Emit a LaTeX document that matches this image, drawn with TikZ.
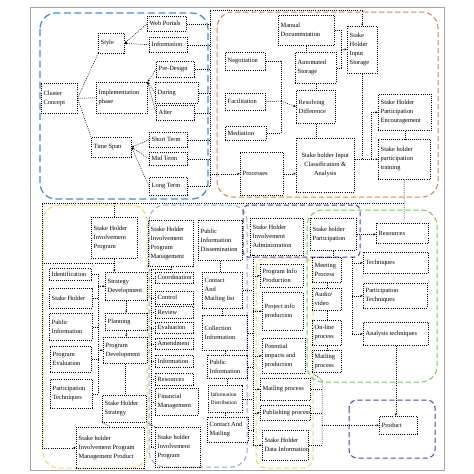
\documentclass[tikz,border=0pt]{standalone}
\usepackage{fontspec}
\setmainfont{Liberation Serif}
\usetikzlibrary{arrows.meta,calc}

\definecolor{zblue}{RGB}{70,140,205}
\definecolor{zorange}{RGB}{215,125,75}
\definecolor{zyellow}{RGB}{228,218,100}
\definecolor{zgrey}{RGB}{150,172,192}
\definecolor{zpurple}{RGB}{90,55,170}
\definecolor{zgreen}{RGB}{105,205,80}
\definecolor{framegrey}{RGB}{165,165,165}

\tikzset{
  box/.style={draw, dash pattern=on 1pt off 1.1pt, line width=0.55pt, inner sep=0pt, anchor=north west},
  txt/.style={anchor=west, align=left, inner sep=0pt, font=\fontsize{6.4}{9}\selectfont},
  conn/.style={dash pattern=on 1pt off 1.1pt, line width=0.5pt},
  arr/.style={conn, -{Latex[length=2.4pt,width=2.2pt]}},
  zone/.style={line width=1pt, dash pattern=on 5pt off 3pt, rounded corners=16pt},
}
% box from its corners: name, x1, y1, x2, y2, text
\newcommand{\bxl}[7][]{%
  \node[box, minimum width={(#5-#3)*1pt}, minimum height={(#6-#4)*1pt}] (#2) at (#3,#4) {};
  \node[txt, xshift=2.5pt, #1] (#2-t) at (#2.west) {#7};}
\newcommand{\bxc}[6]{%
  \node[box, minimum width={(#4-#2)*1pt}, minimum height={(#5-#3)*1pt}] (#1) at (#2,#3) {};
  \node[txt, anchor=center, align=center] (#1-t) at (#1.center) {#6};}

\begin{document}
\begin{tikzpicture}[x=1pt, y=-1pt]
  \useasboundingbox (0,0) rectangle (474,474);
  \fill[white] (0,0) rectangle (474,474);
  %frame and coloured groups
  \draw[framegrey, line width=0.6pt] (30,7) rectangle (444,470);
  \draw[zone, zblue, line width=1.2pt, dash pattern=on 7pt off 3.5pt] (40,13) rectangle (208,199);
  \draw[zone, zorange] (217,12) rectangle (438,197);
  \draw[zone, zyellow] (43,205) rectangle (147,468);
  \draw[zone, zgrey] (149,205) rectangle (247,467);
  \draw[zone, zyellow, rounded corners=10pt] (256,258) rectangle (313,468);
  \draw[zone, zgreen] (307,210) rectangle (437,382);
  \draw[zone, zpurple, rounded corners=5pt] (243,205) rectangle (360,257);
  \draw[zone, zpurple, rounded corners=8pt] (349,400) rectangle (435,458);

  %cluster concept (blue)
  \bxl{cc}{41}{83}{77}{113}{Cluster\\Concept}
  \bxl{sty}{98}{33}{124}{53}{Style}
  \bxl{web}{147}{16}{186}{31}{Web Portals}
  \bxl{inf}{149}{37}{187}{52}{Information}
  \bxl{imp}{96}{82}{147}{113}{Implementation\\phase}
  \bxl{pre}{156}{61}{194}{77}{Pre-Design}
  \bxl{dur}{155}{82}{198}{103}{During}
  \bxl{aft}{156}{105}{194}{120}{After}
  \bxl{tsp}{91}{137}{131}{157}{Time Span}
  \bxl{sht}{149}{132}{187}{147}{Short Term}
  \bxl{mid}{149}{152}{187}{165}{Mid Term}
  \bxl{lng}{149}{177}{187}{195}{Long Term}

  %stake holder input (orange)
  \bxl{man}{278}{15}{334}{45}{Manual\\Documentation}
  \bxl{sto}{347}{26}{377}{73}{Stake\\Holder\\Input\\Storage}
  \bxl{neg}{225}{52}{265}{70}{Negotiation}
  \bxl{aut}{295}{52}{336}{83}{Automated\\Storage}
  \bxl{fac}{225}{93}{265}{110}{Facilitation}
  \bxl{res}{296}{90}{335}{123}{Resolving\\Difference}
  \bxl{med}{225}{126}{266}{140}{Mediation}
  \bxl{enc}{378}{94}{431}{130}{Stake Holder\\Participation\\Encouragement}
  \bxl{trn}{378}{139}{430}{179}{Stake holder\\participation\\training}
  \bxc{cls}{296}{138}{354}{192}{Stake holder Input\\Classification \&\\Analysis}
  \bxl{pro}{240}{152}{283}{195}{Processes}

  %involvement program (yellow)
  \bxl{ship}{91}{217}{137}{258}{Stake Holder\\Involvement\\Program}
  \bxl{idf}{49}{268}{91}{280}{Identification}
  \bxl{sh}{49}{288}{92}{308}{Stake Holder}
  \bxl{sdv}{105}{272}{147}{300}{Strategy\\Development}
  \bxl{pinf}{49}{313}{92}{340}{Public\\Information}
  \bxl{pln}{105}{313}{147}{330}{Planning}
  \bxl{pev}{50}{346}{91}{372}{Program\\Evaluation}
  \bxl{pdv}{103}{337}{147}{363}{Program\\Development}
  \bxl{ptq}{50}{379}{92}{408}{Participation\\Techniques}
  \bxl{shs}{102}{395}{146}{422}{Stake Holder\\Strategy}
  \bxl{mpp}{76}{427}{144}{468}{Stake holder\\Involvement Program\\Management Product}

  %program management (grey)
  \bxl{shipm}{148}{220}{193}{266}{Stake Holder\\Involvement\\Program\\Management}
  \bxl{pid}{198}{220}{242}{260}{Public\\Information\\Dissemination}
  \bxl{crd}{155}{272}{193}{283}{Coordination}
  \bxl{cml}{202}{272}{242}{308}{Contact\\And\\Mailing list}
  \bxl{ctl}{155}{291}{193}{304}{Control}
  \bxl{rev}{155}{306}{193}{318}{Review}
  \bxl{evl}{155}{322}{193}{333}{Evaluation}
  \bxl{amd}{155}{338}{193}{349}{Amendment}
  \bxl{minf}{155}{355}{193}{367}{Information}
  \bxl{mres}{155}{373}{193}{385}{Resources}
  \bxl{fin}{155}{388}{198}{415}{Financial\\Management}
  \bxl{ship2}{155}{427}{200}{467}{Stake holder\\Involvement\\Program}
  \bxl{col}{202}{315}{247}{350}{Collection\\Information}
  \bxl{mpi}{207}{355}{247}{378}{Public\\Information}
  \bxl[font=\fontsize{5.4}{8}\selectfont]{ind}{208}{385}{242}{412}{Information\\Distribution}
  \bxl{cam}{207}{417}{248}{442}{Contact And\\Mailing}

  %administration and participation (purple)
  \bxl{adm}{250}{218}{303}{255}{Stake Holder\\Involvement\\Administration}
  \bxl{spt}{310}{218}{356}{250}{Stake holder\\Participation}

  %information production (yellow column)
  \bxl{pip}{260}{264}{303}{287}{Program Info\\Production}
  \bxl{pjp}{262}{292}{303}{330}{Project info\\production}
  \bxl{pot}{262}{338}{305}{373}{Potential\\impacts and\\production}
  \bxl{mlp}{260}{378}{310}{400}{Mailing process}
  \bxl{pub}{260}{405}{310}{420}{Publishing process}
  \bxl{shd}{262}{430}{308}{460}{Stake Holder\\Data Information}

  %participation (green)
  \bxl{gres}{376}{223}{428}{243}{Resources}
  \bxl{tq}{363}{252}{428}{273}{Techniques}
  \bxl{ptq2}{363}{283}{427}{308}{Participation\\Techniques}
  \bxl{anl}{363}{322}{428}{345}{Analysis techniques}
  \bxl{mtg}{312}{257}{341}{282}{Meeting\\Process}
  \bxl{aud}{312}{288}{341}{310}{Audio/\\video}
  \bxl{onl}{312}{320}{341}{345}{On-line\\process}
  \bxl{gml}{312}{350}{341}{372}{Mailing\\process}
  \bxl{prd}{379}{416}{417}{434}{Product}

  %upper bus
  \coordinate (bt) at (210,10);
  \coordinate (bb) at (210,186);
  \draw[arr] (bb) -- (bt) -| (sto.north);
  \foreach \n in {web,inf,pre,dur,aft,sht,mid,lng}
    \draw[conn] (\n.east) -- (\n.east -| bt);
  \draw[arr] (bt |- pro.west) -- (pro.west);
  %blue cluster
  \draw[conn] (cc.east) -- (sty.south west);
  \draw[conn] (cc.east) -- (imp.west);
  \draw[conn] (cc.east) -- (tsp.north west);
  \foreach \n in {web,inf}
    \draw[arr] (\n.west) -- (sty.east);
  \foreach \n in {pre,dur,aft}
    \draw[arr] (\n.west) -- (imp.north east);
  \foreach \n in {sht,mid,lng}
    \draw[arr] (\n.west) -- (tsp.east);
  %orange group
  \coordinate (rj) at (281,101);
  \draw[conn] (neg.east) -| (rj);
  \draw[conn] (med.east) -| (rj);
  \draw[conn] (fac.east) -- (rj);
  \draw[arr] (rj) -- (res.west);
  \coordinate (sj) at (341,49);
  \draw[conn] (man.east) -| (sj);
  \draw[conn] (aut.east) -| (sj);
  \draw[arr] (sj) -- (sto.west);
  \draw[conn] (man.south) -- (man.south |- aut.north);
  \draw[conn] (aut.south) -- (aut.south |- res.north);
  \draw[conn] (res.south) -- (res.south |- cls.north);
  \draw[arr] (pro.east) -- (pro.east -| cls.west);
  \coordinate (tj) at (sto.south |- trn.west);
  \coordinate (ej) at ($(tj)+(9,0)$);
  \draw[conn] (sto.south) -- (tj);
  \draw[arr] (cls.east |- tj) -- (trn.west);
  \draw[arr] (ej) |- (enc.west);
  \draw[conn] (enc.south) -- (enc.south |- trn.north);
  %lower bus
  \coordinate (lt) at (404,203);
  \coordinate (lb1) at (42,203);
  \coordinate (lb2) at (lb1 |- mpp.west);
  \draw[conn] (trn.south) -- (lt) -- (lt |- gres.north);
  \draw[arr] (lt) -- (lb1) -- (lb2) -- (mpp.west);
  %yellow group
  \coordinate (yj) at (ship.south |- 0,263);
  \coordinate (ya) at (98,274);
  \draw[conn] (ship.north) -- (ship.north |- lt);
  \draw[arr] (ship.south) -- (ship.south |- sdv.north);
  \draw[conn] (lb1 |- yj) -- (yj);
  \foreach \n in {idf,sh,pinf,pev,ptq}
    \draw[conn] (\n.east) -- (\n.east -| ya);
  \draw[conn] (ya |- idf.east) -- (ya |- ptq.east);
  \draw[arr] (ya |- sdv.west) -- (sdv.west);
  \draw[arr] (ya |- pdv.west) -- (pdv.west);
  \draw[arr] (sdv.south) -- (sdv.south |- pln.north);
  \draw[arr] (pln.south) -- (pln.south |- pdv.north);
  \draw[conn] (pdv.south) -- (pdv.south |- shs.north);
  \draw[conn] (shs.south west) -- (mpp.north);
  \draw[conn] (shs.south east) -- (ship2.north west);
  %grey group
  \coordinate (mt) at (151,269);
  \draw[conn] (shipm.south) |- (mt) -- (mt |- ship2.west);
  \foreach \n in {crd,ctl,rev,evl,amd,minf,mres,fin,ship2}
    \draw[conn] (mt |- \n.west) -- (\n.west);
  \draw[conn] (pid.south) -- (pid.south |- cml.north);
  \draw[conn] (cml.south) -- (cml.south |- col.north);
  \draw[conn] (col.south) -- (col.south |- mpi.north);
  \draw[conn] (mpi.south) -- (mpi.south |- ind.north);
  \draw[conn] (ind.south) -- (ind.south |- cam.north);
  %column bus
  \coordinate (ra) at (253,255);
  \coordinate (rb) at (253,445);
  \draw[conn] (ra) -- (rb);
  \foreach \n in {cml,col,mpi,ind,cam}
    \draw[conn] (\n.east) -- (\n.east -| ra);
  \foreach \n in {pip,pjp,pot,mlp,pub,shd}
    \draw[arr] (ra |- \n.west) -- (\n.west);
  %green group
  \draw[arr] (spt.east) -- (spt.east -| gres.west);
  \coordinate (ga) at (352,257);
  \draw[conn] (ga) -- (ga |- anl.west);
  \foreach \n in {tq,ptq2,anl}
    \draw[arr] (ga |- \n.west) -- (\n.west);
  \draw[conn] (spt.south) -- (spt.south |- mtg.north);
  \draw[conn] (mtg.south) -- (aud.north);
  \draw[conn] (aud.south) -- (onl.north);
  \draw[conn] (onl.south) -- (gml.north);
  \draw[arr] (anl.south) -- (anl.south |- prd.north);
  \coordinate (pa) at (322,380);
  \coordinate (pb) at (322,445);
  \draw[conn] (gml.south west) -- (pa) -- (pb);
  \foreach \n in {mlp,pub,shd}
    \draw[conn] (\n.east) -- (\n.east -| pa);
  \draw[arr] (pa |- prd.west) -- (prd.west);
\end{tikzpicture}
\end{document}
